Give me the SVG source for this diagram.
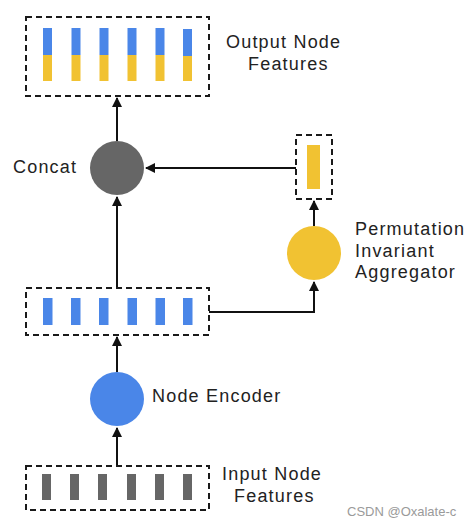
<svg xmlns="http://www.w3.org/2000/svg" width="474" height="526" viewBox="0 0 474 526">
<defs>
<style>
.box{fill:none;stroke:#1a1a1a;stroke-width:2;stroke-dasharray:6 4}
.blue{fill:#4a86e8}
.yel{fill:#f1c232}
.gray{fill:#666666}
.lbl{font-family:"Liberation Sans",Arial,sans-serif;font-size:18px;fill:#222;letter-spacing:1.2px}
.edge{fill:none;stroke:#111;stroke-width:2}
</style>
<marker id="ah" viewBox="0 0 10 10" refX="9" refY="5" markerWidth="5" markerHeight="5" orient="auto" markerUnits="strokeWidth">
<path d="M0,0 L10,5 L0,10 z" fill="#111"/>
</marker>
</defs>
<rect width="474" height="526" fill="#ffffff"/>
<g id="connectors">
<line class="edge" x1="117" y1="466" x2="117" y2="428" marker-end="url(#ah)"/>
<line class="edge" x1="117" y1="372" x2="117" y2="337" marker-end="url(#ah)"/>
<line class="edge" x1="117" y1="288" x2="117" y2="197" marker-end="url(#ah)"/>
<line class="edge" x1="117" y1="141" x2="117" y2="98" marker-end="url(#ah)"/>
<polyline class="edge" points="209,312 314,312 314,282" marker-end="url(#ah)"/>
<line class="edge" x1="314" y1="226" x2="314" y2="201" marker-end="url(#ah)"/>
<line class="edge" x1="296" y1="168" x2="146" y2="168" marker-end="url(#ah)"/>
</g>
<g id="output-features">
<rect class="box" x="26" y="17" width="183" height="79"/>
<rect class="blue" x="43" y="28" width="9" height="27"/>
<rect class="yel" x="43" y="55" width="9" height="26"/>
<rect class="blue" x="71.5" y="28" width="9" height="27"/>
<rect class="yel" x="71.5" y="55" width="9" height="26"/>
<rect class="blue" x="99.5" y="28" width="9" height="27"/>
<rect class="yel" x="99.5" y="55" width="9" height="26"/>
<rect class="blue" x="127.5" y="28" width="9" height="27"/>
<rect class="yel" x="127.5" y="55" width="9" height="26"/>
<rect class="blue" x="155.5" y="28" width="9" height="27"/>
<rect class="yel" x="155.5" y="55" width="9" height="26"/>
<rect class="blue" x="183" y="29" width="9" height="27"/>
<rect class="yel" x="183" y="56" width="9" height="25"/>
<text class="lbl" x="226" y="48">Output Node</text>
<text class="lbl" x="248" y="70">Features</text>
</g>
<g id="concat">
<circle cx="117" cy="168" r="27" fill="#666666"/>
<text class="lbl" x="13" y="173">Concat</text>
</g>
<g id="aggregated">
<rect class="box" x="296" y="135" width="36" height="64"/>
<rect class="yel" x="307" y="145" width="13" height="44"/>
</g>
<g id="aggregator">
<circle cx="314" cy="253" r="27" fill="#f1c232"/>
<text class="lbl" x="355" y="235">Permutation</text>
<text class="lbl" x="355" y="257">Invariant</text>
<text class="lbl" x="355" y="278">Aggregator</text>
</g>
<g id="encoded-features">
<rect class="box" x="26" y="288" width="183" height="47"/>
<rect class="blue" x="43" y="298" width="9.5" height="27"/>
<rect class="blue" x="71" y="298" width="9.5" height="27"/>
<rect class="blue" x="99" y="298" width="9.5" height="27"/>
<rect class="blue" x="127.5" y="298" width="9.5" height="27"/>
<rect class="blue" x="155.5" y="298" width="9.5" height="27"/>
<rect class="blue" x="183" y="298" width="9.5" height="27"/>
</g>
<g id="node-encoder">
<circle cx="117" cy="399" r="27" fill="#4a86e8"/>
<text class="lbl" x="152" y="402">Node Encoder</text>
</g>
<g id="input-features">
<rect class="box" x="26" y="466" width="183" height="44"/>
<rect class="gray" x="42" y="474" width="9" height="26"/>
<rect class="gray" x="70" y="474" width="9" height="26"/>
<rect class="gray" x="98" y="474" width="9" height="26"/>
<rect class="gray" x="127" y="474" width="9" height="26"/>
<rect class="gray" x="155" y="474" width="9" height="26"/>
<rect class="gray" x="183" y="474" width="9" height="26"/>
<text class="lbl" x="222" y="480">Input Node</text>
<text class="lbl" x="234" y="502">Features</text>
</g>
<text x="347" y="516" font-family="'Liberation Sans',Arial,sans-serif" font-size="13" fill="#9a9a9a">CSDN @Oxalate-c</text>
</svg>
